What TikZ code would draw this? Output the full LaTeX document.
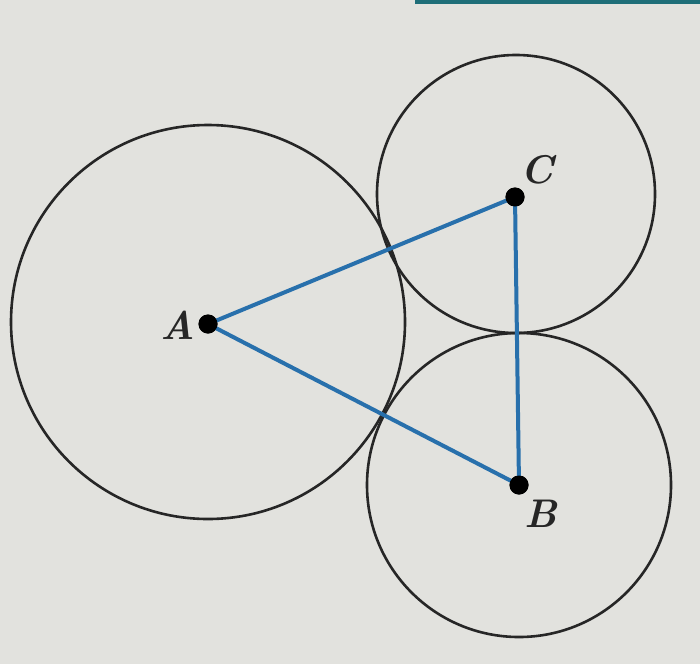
\documentclass[tikz,border=0pt]{standalone}
\begin{document}
\begin{tikzpicture}[x=1pt,y=-1pt,
  circ/.style={draw=black!85,line width=2.6pt},
  seg/.style={draw=segblue,line width=4pt},
  pt/.style={circle,fill=black,inner sep=0pt,minimum size=19pt},
  lab/.style={font=\fontsize{40}{40}\selectfont\bfseries\itshape,text=black!85}]
\definecolor{segblue}{RGB}{40,112,172}
\definecolor{bg}{RGB}{226,226,222}
\definecolor{bar}{RGB}{30,110,120}
\fill[bg] (0,0) rectangle (700,664);
\useasboundingbox (0,0) rectangle (700,664);
\fill[bar] (415,0) rectangle (700,4);
\draw[circ] (208,322) circle (197);
\draw[circ] (516,194) circle (139);
\draw[circ] (519,485) circle (152);
\node[pt] (A) at (208,324) {};
\node[pt] (C) at (515,197) {};
\node[pt] (B) at (519,485) {};
\draw[seg] (A.center) -- (C.center) -- (B.center) -- (A.center);
\node[pt] at (A) {};
\node[pt] at (B) {};
\node[pt] at (C) {};
\node[lab] (lA) at (178,325) {A};
\node[lab] (lC) at (537,170) {C};
\node[lab] (lB) at (541,514) {B};
\end{tikzpicture}
\end{document}
